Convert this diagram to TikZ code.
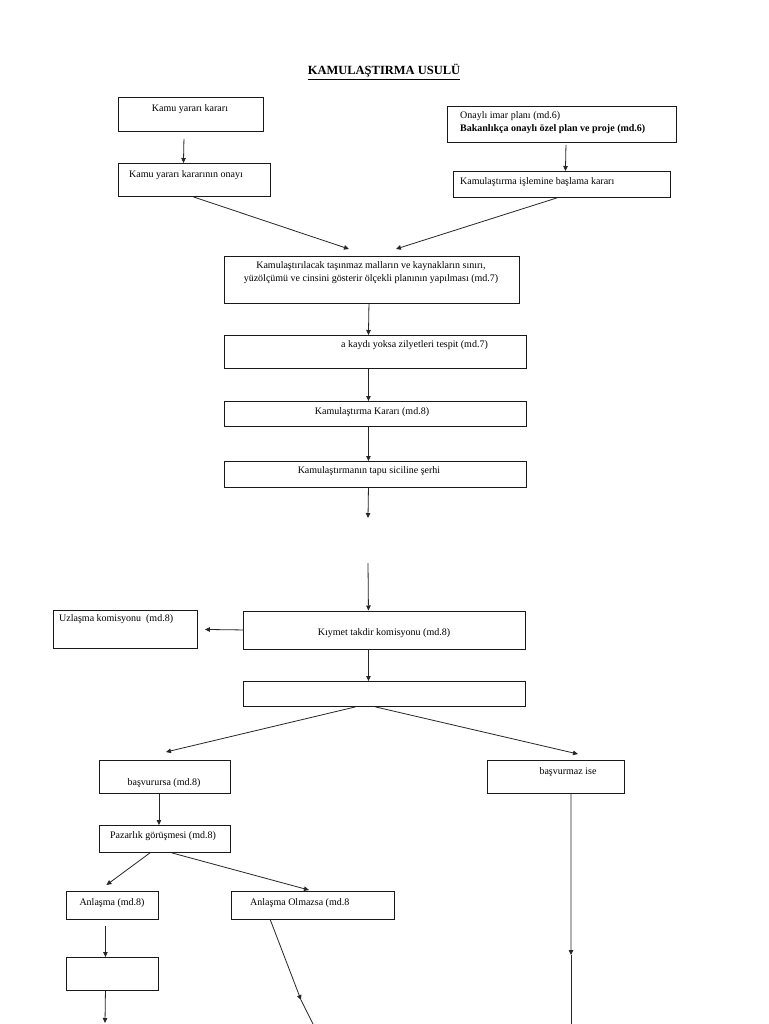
\documentclass[tikz,border=0pt]{standalone}
\usepackage{fontspec}
\setmainfont{Liberation Serif}
\usetikzlibrary{arrows.meta}

\tikzset{
  box/.style={draw=black!90, line width=0.9pt, inner sep=0pt, anchor=north west},
  txt/.style={inner sep=0pt, font=\fontsize{10}{12}\selectfont},
  arr/.style={draw=black!85, line width=0.8pt, -{Triangle[length=5pt,width=4.5pt]}},
  ln/.style={draw=black!85, line width=0.8pt}
}

\begin{document}
\begin{tikzpicture}[x=1pt, y=-1pt]

\fill [white] (0,0) rectangle (768,1024);
\useasboundingbox (0,0) rectangle (768,1024);

\node[txt, font=\fontsize{12.5}{15}\selectfont\bfseries] (title) at (384,72) {\underline{KAMULAŞTIRMA USULÜ}};

% boxes
\node[box, minimum width=145pt, minimum height=34pt] (kyk) at (118,97) {};
\node[box, minimum width=152pt, minimum height=33pt] (kyko) at (118,163) {};
\node[box, minimum width=229pt, minimum height=36pt] (imar) at (447,106) {};
\node[box, minimum width=217pt, minimum height=26pt] (bask) at (453,171) {};
\node[box, minimum width=295pt, minimum height=47pt] (plan) at (224,256) {};
\node[box, minimum width=302pt, minimum height=33pt] (kayit) at (224,335) {};
\node[box, minimum width=302pt, minimum height=25pt] (karar) at (224,401) {};
\node[box, minimum width=302pt, minimum height=26pt] (tapu) at (224,461) {};
\node[box, minimum width=282pt, minimum height=38pt] (kiymet) at (243,610.5) {};
\node[box, minimum width=144pt, minimum height=38pt] (uzlas) at (53,610) {};
\node[box, minimum width=282pt, minimum height=25pt] (bos) at (243,681) {};
\node[box, minimum width=131pt, minimum height=33pt] (basv) at (99,760) {};
\node[box, minimum width=137pt, minimum height=33pt] (basvz) at (487,760) {};
\node[box, minimum width=131pt, minimum height=27pt] (pazar) at (99,825) {};
\node[box, minimum width=92pt, minimum height=28pt] (anl) at (66,891) {};
\node[box, minimum width=163pt, minimum height=28pt] (anlo) at (231,891) {};
\node[box, minimum width=92pt, minimum height=33pt] (bos2) at (66,957) {};

% texts
\node[txt] (kyk-t) at (190,109) {Kamu yararı kararı};
\node[txt] (kyko-t) at (186,175) {Kamu yararı kararının onayı};
\node[txt, anchor=west] (imar-t) at (460,116) {Onaylı imar planı (md.6)};
\node[txt, anchor=west] (imar-b) at (460,129) {\bfseries Bakanlıkça onaylı özel plan ve proje (md.6)};
\node[txt, anchor=west] (bask-t) at (460,182) {Kamulaştırma işlemine başlama kararı};
\node[txt] (plan-t) at (371,266) {Kamulaştırılacak taşınmaz malların ve kaynakların sınırı,};
\node[txt] (plan-b) at (371,279) {yüzölçümü ve cinsini gösterir ölçekli planının yapılması (md.7)};
\node[txt, anchor=west] (kayit-t) at (341,345) {a kaydı yoksa zilyetleri tespit (md.7)};
\node[txt] (karar-t) at (372,412) {Kamulaştırma Kararı (md.8)};
\node[txt] (tapu-t) at (369,471) {Kamulaştırmanın tapu siciline şerhi};
\node[txt] (kiymet-t) at (384,633) {Kıymet takdir komisyonu (md.8)};
\node[txt, anchor=west] (uzlas-t) at (59,619) {Uzlaşma komisyonu\ \ (md.8)};
\node[txt] (basv-t) at (164,783) {başvurursa (md.8)};
\node[txt] (basvz-t) at (568,772) {başvurmaz ise};
\node[txt] (pazar-t) at (163,836) {Pazarlık görüşmesi (md.8)};
\node[txt] (anl-t) at (112,903) {Anlaşma (md.8)};
\node[txt, anchor=west] (anlo-t) at (250,903) {Anlaşma Olmazsa (md.8};

% connectors
\coordinate (gap1) at (368,518);
\coordinate (gap2) at (368,563);
\coordinate (olmz) at (301,1000);
\coordinate (olmz-e) at (313,1024);
\coordinate (bz) at (571,955);
\coordinate (bz-e) at (571,1024);
\coordinate (b2-e) at (105,1023);

\draw[arr] ([xshift=-7pt,yshift=-7pt]kyk.south) -- ([xshift=-11pt]kyko.north);
\draw[arr] ([xshift=4pt,yshift=-2pt]imar.south) -- ([xshift=3.5pt]bask.north);
\draw[arr] ([xshift=-1pt]kyko.south) -- ([xshift=-23pt,yshift=7pt]plan.north);
\draw[arr] ([xshift=-5pt]bask.south) -- ([xshift=24pt,yshift=7pt]plan.north);
\draw[arr] ([xshift=-3pt]plan.south) -- ([xshift=-7pt]kayit.north);
\draw[arr] ([xshift=-7pt]kayit.south) -- ([xshift=-7pt]karar.north);
\draw[arr] ([xshift=-7pt]karar.south) -- ([xshift=-7pt]tapu.north);
\draw[arr] ([xshift=-7pt]tapu.south) -- (gap1);
\draw[arr] (gap2) -- ([xshift=-16pt]kiymet.north);
\draw[arr] (kiymet.west) -- ([xshift=7pt]uzlas.east);
\draw[arr] ([xshift=-16pt]kiymet.south) -- ([xshift=-16pt]bos.north);
\draw[arr] ([xshift=-29pt]bos.south) -- ([xshift=1pt,yshift=8pt]basv.north);
\draw[arr] ([xshift=-9pt]bos.south) -- ([xshift=22pt,yshift=6pt]basvz.north);
\draw[arr] ([xshift=-6pt]basv.south) -- ([xshift=-6pt]pazar.north);
\draw[arr] ([xshift=-15pt]pazar.south) -- ([xshift=-6pt,yshift=6pt]anl.north);
\draw[arr] ([xshift=7pt]pazar.south) -- ([xshift=-4pt,yshift=1pt]anlo.north);
\draw[arr] ([xshift=-7pt,yshift=-6pt]anl.south) -- ([xshift=-7pt]bos2.north);
\draw[arr] ([xshift=-7pt]bos2.south) -- (b2-e);
\draw[arr] ([xshift=-43pt,yshift=1pt]anlo.south) -- (olmz);
\draw[ln] (olmz) -- (olmz-e);
\draw[arr] ([xshift=15pt]basvz.south) -- (bz);
\draw[ln] (bz) -- (bz-e);

\end{tikzpicture}
\end{document}
